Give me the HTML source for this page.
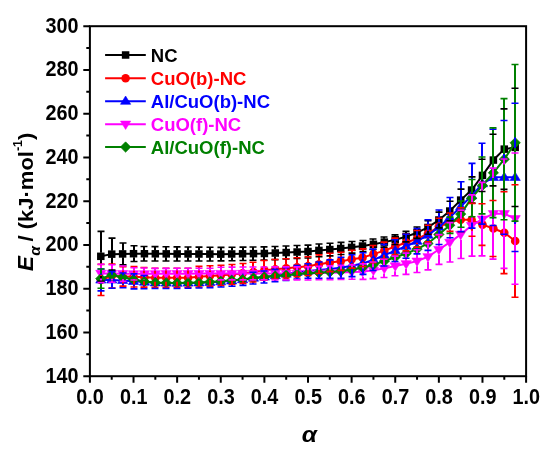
<!DOCTYPE html>
<html><head><meta charset="utf-8"><title>Ea vs alpha</title><style>html,body{margin:0;padding:0;background:#fff}body{width:550px;height:454px;overflow:hidden}</style></head><body>
<svg width="550" height="454" viewBox="0 0 550 454" style="display:block">
<rect width="550" height="454" fill="#ffffff"/>
<g>
<polyline points="100.81,256.32 111.71,254.14 122.62,253.92 133.52,253.70 144.43,253.75 155.33,253.81 166.24,253.86 177.14,253.92 188.05,253.97 198.95,254.03 209.86,254.08 220.76,254.14 231.67,253.97 242.57,253.81 253.48,253.65 264.38,253.48 275.29,253.04 286.19,252.53 297.10,252.02 308.00,251.51 318.91,250.42 329.81,249.54 340.72,248.45 351.62,247.36 362.52,246.04 373.43,244.29 384.34,242.11 395.24,239.70 406.14,236.64 417.05,232.70 427.96,227.45 438.86,220.01 449.76,211.04 460.67,200.11 471.58,190.04 482.48,175.39 493.39,160.07 504.29,149.14 515.20,147.39" fill="none" stroke="#000000" stroke-width="2.0" stroke-linejoin="round"/>
<g><rect x="97.06" y="252.57" width="7.50" height="7.50" fill="#000000"/><rect x="107.96" y="250.39" width="7.50" height="7.50" fill="#000000"/><rect x="118.87" y="250.17" width="7.50" height="7.50" fill="#000000"/><rect x="129.77" y="249.95" width="7.50" height="7.50" fill="#000000"/><rect x="140.68" y="250.00" width="7.50" height="7.50" fill="#000000"/><rect x="151.58" y="250.06" width="7.50" height="7.50" fill="#000000"/><rect x="162.49" y="250.11" width="7.50" height="7.50" fill="#000000"/><rect x="173.39" y="250.17" width="7.50" height="7.50" fill="#000000"/><rect x="184.30" y="250.22" width="7.50" height="7.50" fill="#000000"/><rect x="195.20" y="250.28" width="7.50" height="7.50" fill="#000000"/><rect x="206.11" y="250.33" width="7.50" height="7.50" fill="#000000"/><rect x="217.01" y="250.39" width="7.50" height="7.50" fill="#000000"/><rect x="227.92" y="250.22" width="7.50" height="7.50" fill="#000000"/><rect x="238.82" y="250.06" width="7.50" height="7.50" fill="#000000"/><rect x="249.73" y="249.90" width="7.50" height="7.50" fill="#000000"/><rect x="260.63" y="249.73" width="7.50" height="7.50" fill="#000000"/><rect x="271.54" y="249.29" width="7.50" height="7.50" fill="#000000"/><rect x="282.44" y="248.78" width="7.50" height="7.50" fill="#000000"/><rect x="293.35" y="248.27" width="7.50" height="7.50" fill="#000000"/><rect x="304.25" y="247.76" width="7.50" height="7.50" fill="#000000"/><rect x="315.16" y="246.67" width="7.50" height="7.50" fill="#000000"/><rect x="326.06" y="245.79" width="7.50" height="7.50" fill="#000000"/><rect x="336.97" y="244.70" width="7.50" height="7.50" fill="#000000"/><rect x="347.87" y="243.61" width="7.50" height="7.50" fill="#000000"/><rect x="358.77" y="242.29" width="7.50" height="7.50" fill="#000000"/><rect x="369.68" y="240.54" width="7.50" height="7.50" fill="#000000"/><rect x="380.59" y="238.36" width="7.50" height="7.50" fill="#000000"/><rect x="391.49" y="235.95" width="7.50" height="7.50" fill="#000000"/><rect x="402.39" y="232.89" width="7.50" height="7.50" fill="#000000"/><rect x="413.30" y="228.95" width="7.50" height="7.50" fill="#000000"/><rect x="424.21" y="223.70" width="7.50" height="7.50" fill="#000000"/><rect x="435.11" y="216.26" width="7.50" height="7.50" fill="#000000"/><rect x="446.01" y="207.29" width="7.50" height="7.50" fill="#000000"/><rect x="456.92" y="196.36" width="7.50" height="7.50" fill="#000000"/><rect x="467.83" y="186.29" width="7.50" height="7.50" fill="#000000"/><rect x="478.73" y="171.64" width="7.50" height="7.50" fill="#000000"/><rect x="489.64" y="156.32" width="7.50" height="7.50" fill="#000000"/><rect x="500.54" y="145.39" width="7.50" height="7.50" fill="#000000"/><rect x="511.45" y="143.64" width="7.50" height="7.50" fill="#000000"/></g>
<polyline points="100.81,279.95 111.71,276.01 122.62,276.45 133.52,276.78 144.43,277.27 155.33,277.76 166.24,277.76 177.14,277.76 188.05,277.76 198.95,276.67 209.86,276.01 220.76,275.36 231.67,274.48 242.57,273.39 253.48,272.07 264.38,270.32 275.29,269.23 286.19,268.36 297.10,267.26 308.00,266.17 318.91,264.20 329.81,262.45 340.72,261.36 351.62,259.17 362.52,257.64 373.43,254.14 384.34,250.64 395.24,246.48 406.14,242.54 417.05,238.82 427.96,233.58 438.86,226.57 449.76,222.20 460.67,219.79 471.58,219.79 482.48,224.61 493.39,228.54 504.29,232.70 515.20,241.01" fill="none" stroke="#ff0000" stroke-width="2.0" stroke-linejoin="round"/>
<g><circle cx="100.81" cy="279.95" r="4.30" fill="#ff0000"/><circle cx="111.71" cy="276.01" r="4.30" fill="#ff0000"/><circle cx="122.62" cy="276.45" r="4.30" fill="#ff0000"/><circle cx="133.52" cy="276.78" r="4.30" fill="#ff0000"/><circle cx="144.43" cy="277.27" r="4.30" fill="#ff0000"/><circle cx="155.33" cy="277.76" r="4.30" fill="#ff0000"/><circle cx="166.24" cy="277.76" r="4.30" fill="#ff0000"/><circle cx="177.14" cy="277.76" r="4.30" fill="#ff0000"/><circle cx="188.05" cy="277.76" r="4.30" fill="#ff0000"/><circle cx="198.95" cy="276.67" r="4.30" fill="#ff0000"/><circle cx="209.86" cy="276.01" r="4.30" fill="#ff0000"/><circle cx="220.76" cy="275.36" r="4.30" fill="#ff0000"/><circle cx="231.67" cy="274.48" r="4.30" fill="#ff0000"/><circle cx="242.57" cy="273.39" r="4.30" fill="#ff0000"/><circle cx="253.48" cy="272.07" r="4.30" fill="#ff0000"/><circle cx="264.38" cy="270.32" r="4.30" fill="#ff0000"/><circle cx="275.29" cy="269.23" r="4.30" fill="#ff0000"/><circle cx="286.19" cy="268.36" r="4.30" fill="#ff0000"/><circle cx="297.10" cy="267.26" r="4.30" fill="#ff0000"/><circle cx="308.00" cy="266.17" r="4.30" fill="#ff0000"/><circle cx="318.91" cy="264.20" r="4.30" fill="#ff0000"/><circle cx="329.81" cy="262.45" r="4.30" fill="#ff0000"/><circle cx="340.72" cy="261.36" r="4.30" fill="#ff0000"/><circle cx="351.62" cy="259.17" r="4.30" fill="#ff0000"/><circle cx="362.52" cy="257.64" r="4.30" fill="#ff0000"/><circle cx="373.43" cy="254.14" r="4.30" fill="#ff0000"/><circle cx="384.34" cy="250.64" r="4.30" fill="#ff0000"/><circle cx="395.24" cy="246.48" r="4.30" fill="#ff0000"/><circle cx="406.14" cy="242.54" r="4.30" fill="#ff0000"/><circle cx="417.05" cy="238.82" r="4.30" fill="#ff0000"/><circle cx="427.96" cy="233.58" r="4.30" fill="#ff0000"/><circle cx="438.86" cy="226.57" r="4.30" fill="#ff0000"/><circle cx="449.76" cy="222.20" r="4.30" fill="#ff0000"/><circle cx="460.67" cy="219.79" r="4.30" fill="#ff0000"/><circle cx="471.58" cy="219.79" r="4.30" fill="#ff0000"/><circle cx="482.48" cy="224.61" r="4.30" fill="#ff0000"/><circle cx="493.39" cy="228.54" r="4.30" fill="#ff0000"/><circle cx="504.29" cy="232.70" r="4.30" fill="#ff0000"/><circle cx="515.20" cy="241.01" r="4.30" fill="#ff0000"/></g>
<polyline points="100.81,279.95 111.71,279.95 122.62,280.39 133.52,281.37 144.43,282.08 155.33,282.79 166.24,283.01 177.14,283.23 188.05,283.01 198.95,282.79 209.86,282.36 220.76,281.70 231.67,280.82 242.57,279.62 253.48,278.09 264.38,277.00 275.29,275.57 286.19,274.04 297.10,272.29 308.00,270.98 318.91,270.11 329.81,269.01 340.72,267.70 351.62,265.73 362.52,263.54 373.43,259.83 384.34,255.23 395.24,250.64 406.14,246.26 417.05,241.23 427.96,235.11 438.86,227.23 449.76,217.61 460.67,206.67 471.58,195.73 482.48,183.70 493.39,177.36 504.29,177.36 515.20,177.36" fill="none" stroke="#0000ff" stroke-width="2.0" stroke-linejoin="round"/>
<g><polygon points="95.71,283.05 105.91,283.05 100.81,274.75" fill="#0000ff" stroke="#0000ff" stroke-width="0.6" stroke-linejoin="round"/><polygon points="106.61,283.05 116.81,283.05 111.71,274.75" fill="#0000ff" stroke="#0000ff" stroke-width="0.6" stroke-linejoin="round"/><polygon points="117.52,283.49 127.72,283.49 122.62,275.19" fill="#0000ff" stroke="#0000ff" stroke-width="0.6" stroke-linejoin="round"/><polygon points="128.42,284.47 138.62,284.47 133.52,276.17" fill="#0000ff" stroke="#0000ff" stroke-width="0.6" stroke-linejoin="round"/><polygon points="139.33,285.18 149.53,285.18 144.43,276.88" fill="#0000ff" stroke="#0000ff" stroke-width="0.6" stroke-linejoin="round"/><polygon points="150.23,285.89 160.43,285.89 155.33,277.59" fill="#0000ff" stroke="#0000ff" stroke-width="0.6" stroke-linejoin="round"/><polygon points="161.14,286.11 171.34,286.11 166.24,277.81" fill="#0000ff" stroke="#0000ff" stroke-width="0.6" stroke-linejoin="round"/><polygon points="172.04,286.33 182.24,286.33 177.14,278.03" fill="#0000ff" stroke="#0000ff" stroke-width="0.6" stroke-linejoin="round"/><polygon points="182.95,286.11 193.15,286.11 188.05,277.81" fill="#0000ff" stroke="#0000ff" stroke-width="0.6" stroke-linejoin="round"/><polygon points="193.85,285.89 204.05,285.89 198.95,277.59" fill="#0000ff" stroke="#0000ff" stroke-width="0.6" stroke-linejoin="round"/><polygon points="204.76,285.46 214.96,285.46 209.86,277.16" fill="#0000ff" stroke="#0000ff" stroke-width="0.6" stroke-linejoin="round"/><polygon points="215.66,284.80 225.86,284.80 220.76,276.50" fill="#0000ff" stroke="#0000ff" stroke-width="0.6" stroke-linejoin="round"/><polygon points="226.57,283.93 236.77,283.93 231.67,275.62" fill="#0000ff" stroke="#0000ff" stroke-width="0.6" stroke-linejoin="round"/><polygon points="237.47,282.72 247.67,282.72 242.57,274.42" fill="#0000ff" stroke="#0000ff" stroke-width="0.6" stroke-linejoin="round"/><polygon points="248.38,281.19 258.58,281.19 253.48,272.89" fill="#0000ff" stroke="#0000ff" stroke-width="0.6" stroke-linejoin="round"/><polygon points="259.28,280.10 269.48,280.10 264.38,271.80" fill="#0000ff" stroke="#0000ff" stroke-width="0.6" stroke-linejoin="round"/><polygon points="270.19,278.68 280.39,278.68 275.29,270.38" fill="#0000ff" stroke="#0000ff" stroke-width="0.6" stroke-linejoin="round"/><polygon points="281.09,277.14 291.29,277.14 286.19,268.84" fill="#0000ff" stroke="#0000ff" stroke-width="0.6" stroke-linejoin="round"/><polygon points="292.00,275.39 302.20,275.39 297.10,267.09" fill="#0000ff" stroke="#0000ff" stroke-width="0.6" stroke-linejoin="round"/><polygon points="302.90,274.08 313.10,274.08 308.00,265.78" fill="#0000ff" stroke="#0000ff" stroke-width="0.6" stroke-linejoin="round"/><polygon points="313.81,273.21 324.01,273.21 318.91,264.91" fill="#0000ff" stroke="#0000ff" stroke-width="0.6" stroke-linejoin="round"/><polygon points="324.71,272.11 334.91,272.11 329.81,263.81" fill="#0000ff" stroke="#0000ff" stroke-width="0.6" stroke-linejoin="round"/><polygon points="335.62,270.80 345.82,270.80 340.72,262.50" fill="#0000ff" stroke="#0000ff" stroke-width="0.6" stroke-linejoin="round"/><polygon points="346.52,268.83 356.72,268.83 351.62,260.53" fill="#0000ff" stroke="#0000ff" stroke-width="0.6" stroke-linejoin="round"/><polygon points="357.42,266.64 367.62,266.64 362.52,258.34" fill="#0000ff" stroke="#0000ff" stroke-width="0.6" stroke-linejoin="round"/><polygon points="368.33,262.93 378.53,262.93 373.43,254.63" fill="#0000ff" stroke="#0000ff" stroke-width="0.6" stroke-linejoin="round"/><polygon points="379.24,258.33 389.44,258.33 384.34,250.03" fill="#0000ff" stroke="#0000ff" stroke-width="0.6" stroke-linejoin="round"/><polygon points="390.14,253.74 400.34,253.74 395.24,245.44" fill="#0000ff" stroke="#0000ff" stroke-width="0.6" stroke-linejoin="round"/><polygon points="401.04,249.36 411.25,249.36 406.14,241.06" fill="#0000ff" stroke="#0000ff" stroke-width="0.6" stroke-linejoin="round"/><polygon points="411.95,244.33 422.15,244.33 417.05,236.03" fill="#0000ff" stroke="#0000ff" stroke-width="0.6" stroke-linejoin="round"/><polygon points="422.86,238.21 433.06,238.21 427.96,229.91" fill="#0000ff" stroke="#0000ff" stroke-width="0.6" stroke-linejoin="round"/><polygon points="433.76,230.33 443.96,230.33 438.86,222.03" fill="#0000ff" stroke="#0000ff" stroke-width="0.6" stroke-linejoin="round"/><polygon points="444.66,220.71 454.87,220.71 449.76,212.41" fill="#0000ff" stroke="#0000ff" stroke-width="0.6" stroke-linejoin="round"/><polygon points="455.57,209.77 465.77,209.77 460.67,201.47" fill="#0000ff" stroke="#0000ff" stroke-width="0.6" stroke-linejoin="round"/><polygon points="466.48,198.83 476.68,198.83 471.58,190.53" fill="#0000ff" stroke="#0000ff" stroke-width="0.6" stroke-linejoin="round"/><polygon points="477.38,186.80 487.58,186.80 482.48,178.50" fill="#0000ff" stroke="#0000ff" stroke-width="0.6" stroke-linejoin="round"/><polygon points="488.29,180.46 498.49,180.46 493.39,172.16" fill="#0000ff" stroke="#0000ff" stroke-width="0.6" stroke-linejoin="round"/><polygon points="499.19,180.46 509.39,180.46 504.29,172.16" fill="#0000ff" stroke="#0000ff" stroke-width="0.6" stroke-linejoin="round"/><polygon points="510.10,180.46 520.30,180.46 515.20,172.16" fill="#0000ff" stroke="#0000ff" stroke-width="0.6" stroke-linejoin="round"/></g>
<polyline points="100.81,273.39 111.71,273.53 122.62,273.68 133.52,273.82 144.43,273.79 155.33,273.75 166.24,273.72 177.14,273.68 188.05,273.64 198.95,273.61 209.86,273.57 220.76,273.53 231.67,273.50 242.57,273.46 253.48,273.42 264.38,273.39 275.29,273.39 286.19,273.39 297.10,273.39 308.00,273.39 318.91,273.06 329.81,272.73 340.72,272.40 351.62,272.07 362.52,271.64 373.43,270.32 384.34,268.36 395.24,265.95 406.14,263.76 417.05,261.14 427.96,256.76 438.86,249.54 449.76,242.33 460.67,234.45 471.58,225.48 482.48,219.14 493.39,213.67 504.29,213.67 515.20,218.70" fill="none" stroke="#ff00ff" stroke-width="2.0" stroke-linejoin="round"/>
<g><polygon points="95.71,270.29 105.91,270.29 100.81,278.59" fill="#ff00ff" stroke="#ff00ff" stroke-width="0.6" stroke-linejoin="round"/><polygon points="106.61,270.43 116.81,270.43 111.71,278.73" fill="#ff00ff" stroke="#ff00ff" stroke-width="0.6" stroke-linejoin="round"/><polygon points="117.52,270.58 127.72,270.58 122.62,278.88" fill="#ff00ff" stroke="#ff00ff" stroke-width="0.6" stroke-linejoin="round"/><polygon points="128.42,270.72 138.62,270.72 133.52,279.02" fill="#ff00ff" stroke="#ff00ff" stroke-width="0.6" stroke-linejoin="round"/><polygon points="139.33,270.69 149.53,270.69 144.43,278.99" fill="#ff00ff" stroke="#ff00ff" stroke-width="0.6" stroke-linejoin="round"/><polygon points="150.23,270.65 160.43,270.65 155.33,278.95" fill="#ff00ff" stroke="#ff00ff" stroke-width="0.6" stroke-linejoin="round"/><polygon points="161.14,270.62 171.34,270.62 166.24,278.92" fill="#ff00ff" stroke="#ff00ff" stroke-width="0.6" stroke-linejoin="round"/><polygon points="172.04,270.58 182.24,270.58 177.14,278.88" fill="#ff00ff" stroke="#ff00ff" stroke-width="0.6" stroke-linejoin="round"/><polygon points="182.95,270.54 193.15,270.54 188.05,278.84" fill="#ff00ff" stroke="#ff00ff" stroke-width="0.6" stroke-linejoin="round"/><polygon points="193.85,270.51 204.05,270.51 198.95,278.81" fill="#ff00ff" stroke="#ff00ff" stroke-width="0.6" stroke-linejoin="round"/><polygon points="204.76,270.47 214.96,270.47 209.86,278.77" fill="#ff00ff" stroke="#ff00ff" stroke-width="0.6" stroke-linejoin="round"/><polygon points="215.66,270.43 225.86,270.43 220.76,278.73" fill="#ff00ff" stroke="#ff00ff" stroke-width="0.6" stroke-linejoin="round"/><polygon points="226.57,270.40 236.77,270.40 231.67,278.70" fill="#ff00ff" stroke="#ff00ff" stroke-width="0.6" stroke-linejoin="round"/><polygon points="237.47,270.36 247.67,270.36 242.57,278.66" fill="#ff00ff" stroke="#ff00ff" stroke-width="0.6" stroke-linejoin="round"/><polygon points="248.38,270.32 258.58,270.32 253.48,278.62" fill="#ff00ff" stroke="#ff00ff" stroke-width="0.6" stroke-linejoin="round"/><polygon points="259.28,270.29 269.48,270.29 264.38,278.59" fill="#ff00ff" stroke="#ff00ff" stroke-width="0.6" stroke-linejoin="round"/><polygon points="270.19,270.29 280.39,270.29 275.29,278.59" fill="#ff00ff" stroke="#ff00ff" stroke-width="0.6" stroke-linejoin="round"/><polygon points="281.09,270.29 291.29,270.29 286.19,278.59" fill="#ff00ff" stroke="#ff00ff" stroke-width="0.6" stroke-linejoin="round"/><polygon points="292.00,270.29 302.20,270.29 297.10,278.59" fill="#ff00ff" stroke="#ff00ff" stroke-width="0.6" stroke-linejoin="round"/><polygon points="302.90,270.29 313.10,270.29 308.00,278.59" fill="#ff00ff" stroke="#ff00ff" stroke-width="0.6" stroke-linejoin="round"/><polygon points="313.81,269.96 324.01,269.96 318.91,278.26" fill="#ff00ff" stroke="#ff00ff" stroke-width="0.6" stroke-linejoin="round"/><polygon points="324.71,269.63 334.91,269.63 329.81,277.93" fill="#ff00ff" stroke="#ff00ff" stroke-width="0.6" stroke-linejoin="round"/><polygon points="335.62,269.30 345.82,269.30 340.72,277.60" fill="#ff00ff" stroke="#ff00ff" stroke-width="0.6" stroke-linejoin="round"/><polygon points="346.52,268.97 356.72,268.97 351.62,277.27" fill="#ff00ff" stroke="#ff00ff" stroke-width="0.6" stroke-linejoin="round"/><polygon points="357.42,268.54 367.62,268.54 362.52,276.84" fill="#ff00ff" stroke="#ff00ff" stroke-width="0.6" stroke-linejoin="round"/><polygon points="368.33,267.22 378.53,267.22 373.43,275.52" fill="#ff00ff" stroke="#ff00ff" stroke-width="0.6" stroke-linejoin="round"/><polygon points="379.24,265.26 389.44,265.26 384.34,273.56" fill="#ff00ff" stroke="#ff00ff" stroke-width="0.6" stroke-linejoin="round"/><polygon points="390.14,262.85 400.34,262.85 395.24,271.15" fill="#ff00ff" stroke="#ff00ff" stroke-width="0.6" stroke-linejoin="round"/><polygon points="401.04,260.66 411.25,260.66 406.14,268.96" fill="#ff00ff" stroke="#ff00ff" stroke-width="0.6" stroke-linejoin="round"/><polygon points="411.95,258.04 422.15,258.04 417.05,266.34" fill="#ff00ff" stroke="#ff00ff" stroke-width="0.6" stroke-linejoin="round"/><polygon points="422.86,253.66 433.06,253.66 427.96,261.96" fill="#ff00ff" stroke="#ff00ff" stroke-width="0.6" stroke-linejoin="round"/><polygon points="433.76,246.44 443.96,246.44 438.86,254.74" fill="#ff00ff" stroke="#ff00ff" stroke-width="0.6" stroke-linejoin="round"/><polygon points="444.66,239.23 454.87,239.23 449.76,247.53" fill="#ff00ff" stroke="#ff00ff" stroke-width="0.6" stroke-linejoin="round"/><polygon points="455.57,231.35 465.77,231.35 460.67,239.65" fill="#ff00ff" stroke="#ff00ff" stroke-width="0.6" stroke-linejoin="round"/><polygon points="466.48,222.38 476.68,222.38 471.58,230.68" fill="#ff00ff" stroke="#ff00ff" stroke-width="0.6" stroke-linejoin="round"/><polygon points="477.38,216.04 487.58,216.04 482.48,224.34" fill="#ff00ff" stroke="#ff00ff" stroke-width="0.6" stroke-linejoin="round"/><polygon points="488.29,210.57 498.49,210.57 493.39,218.87" fill="#ff00ff" stroke="#ff00ff" stroke-width="0.6" stroke-linejoin="round"/><polygon points="499.19,210.57 509.39,210.57 504.29,218.87" fill="#ff00ff" stroke="#ff00ff" stroke-width="0.6" stroke-linejoin="round"/><polygon points="510.10,215.60 520.30,215.60 515.20,223.90" fill="#ff00ff" stroke="#ff00ff" stroke-width="0.6" stroke-linejoin="round"/></g>
<polyline points="100.81,278.64 111.71,274.92 122.62,277.33 133.52,279.51 144.43,281.48 155.33,282.57 166.24,282.79 177.14,283.01 188.05,282.79 198.95,282.57 209.86,281.92 220.76,281.26 231.67,280.17 242.57,279.51 253.48,277.98 264.38,276.89 275.29,276.01 286.19,275.14 297.10,274.04 308.00,273.17 318.91,272.73 329.81,272.07 340.72,271.20 351.62,269.67 362.52,267.48 373.43,264.86 384.34,261.14 395.24,257.20 406.14,253.48 417.05,249.11 427.96,243.42 438.86,234.45 449.76,225.26 460.67,214.11 471.58,198.14 482.48,185.45 493.39,172.76 504.29,159.20 515.20,142.79" fill="none" stroke="#008000" stroke-width="2.0" stroke-linejoin="round"/>
<g><polygon points="95.66,278.64 100.81,273.49 105.96,278.64 100.81,283.79" fill="#008000" stroke="#008000" stroke-width="0.7" stroke-linejoin="round"/><polygon points="106.56,274.92 111.71,269.77 116.86,274.92 111.71,280.07" fill="#008000" stroke="#008000" stroke-width="0.7" stroke-linejoin="round"/><polygon points="117.47,277.33 122.62,272.18 127.77,277.33 122.62,282.48" fill="#008000" stroke="#008000" stroke-width="0.7" stroke-linejoin="round"/><polygon points="128.37,279.51 133.52,274.36 138.67,279.51 133.52,284.66" fill="#008000" stroke="#008000" stroke-width="0.7" stroke-linejoin="round"/><polygon points="139.28,281.48 144.43,276.33 149.58,281.48 144.43,286.63" fill="#008000" stroke="#008000" stroke-width="0.7" stroke-linejoin="round"/><polygon points="150.18,282.57 155.33,277.42 160.48,282.57 155.33,287.72" fill="#008000" stroke="#008000" stroke-width="0.7" stroke-linejoin="round"/><polygon points="161.09,282.79 166.24,277.64 171.39,282.79 166.24,287.94" fill="#008000" stroke="#008000" stroke-width="0.7" stroke-linejoin="round"/><polygon points="171.99,283.01 177.14,277.86 182.29,283.01 177.14,288.16" fill="#008000" stroke="#008000" stroke-width="0.7" stroke-linejoin="round"/><polygon points="182.90,282.79 188.05,277.64 193.20,282.79 188.05,287.94" fill="#008000" stroke="#008000" stroke-width="0.7" stroke-linejoin="round"/><polygon points="193.80,282.57 198.95,277.42 204.10,282.57 198.95,287.72" fill="#008000" stroke="#008000" stroke-width="0.7" stroke-linejoin="round"/><polygon points="204.71,281.92 209.86,276.77 215.01,281.92 209.86,287.07" fill="#008000" stroke="#008000" stroke-width="0.7" stroke-linejoin="round"/><polygon points="215.61,281.26 220.76,276.11 225.91,281.26 220.76,286.41" fill="#008000" stroke="#008000" stroke-width="0.7" stroke-linejoin="round"/><polygon points="226.52,280.17 231.67,275.02 236.82,280.17 231.67,285.32" fill="#008000" stroke="#008000" stroke-width="0.7" stroke-linejoin="round"/><polygon points="237.42,279.51 242.57,274.36 247.72,279.51 242.57,284.66" fill="#008000" stroke="#008000" stroke-width="0.7" stroke-linejoin="round"/><polygon points="248.33,277.98 253.48,272.83 258.62,277.98 253.48,283.13" fill="#008000" stroke="#008000" stroke-width="0.7" stroke-linejoin="round"/><polygon points="259.23,276.89 264.38,271.74 269.53,276.89 264.38,282.04" fill="#008000" stroke="#008000" stroke-width="0.7" stroke-linejoin="round"/><polygon points="270.14,276.01 275.29,270.86 280.44,276.01 275.29,281.16" fill="#008000" stroke="#008000" stroke-width="0.7" stroke-linejoin="round"/><polygon points="281.04,275.14 286.19,269.99 291.34,275.14 286.19,280.29" fill="#008000" stroke="#008000" stroke-width="0.7" stroke-linejoin="round"/><polygon points="291.95,274.04 297.10,268.89 302.25,274.04 297.10,279.19" fill="#008000" stroke="#008000" stroke-width="0.7" stroke-linejoin="round"/><polygon points="302.85,273.17 308.00,268.02 313.15,273.17 308.00,278.32" fill="#008000" stroke="#008000" stroke-width="0.7" stroke-linejoin="round"/><polygon points="313.76,272.73 318.91,267.58 324.06,272.73 318.91,277.88" fill="#008000" stroke="#008000" stroke-width="0.7" stroke-linejoin="round"/><polygon points="324.66,272.07 329.81,266.93 334.96,272.07 329.81,277.22" fill="#008000" stroke="#008000" stroke-width="0.7" stroke-linejoin="round"/><polygon points="335.57,271.20 340.72,266.05 345.87,271.20 340.72,276.35" fill="#008000" stroke="#008000" stroke-width="0.7" stroke-linejoin="round"/><polygon points="346.47,269.67 351.62,264.52 356.77,269.67 351.62,274.82" fill="#008000" stroke="#008000" stroke-width="0.7" stroke-linejoin="round"/><polygon points="357.38,267.48 362.52,262.33 367.67,267.48 362.52,272.63" fill="#008000" stroke="#008000" stroke-width="0.7" stroke-linejoin="round"/><polygon points="368.28,264.86 373.43,259.71 378.58,264.86 373.43,270.01" fill="#008000" stroke="#008000" stroke-width="0.7" stroke-linejoin="round"/><polygon points="379.19,261.14 384.34,255.99 389.49,261.14 384.34,266.29" fill="#008000" stroke="#008000" stroke-width="0.7" stroke-linejoin="round"/><polygon points="390.09,257.20 395.24,252.05 400.39,257.20 395.24,262.35" fill="#008000" stroke="#008000" stroke-width="0.7" stroke-linejoin="round"/><polygon points="401.00,253.48 406.14,248.33 411.29,253.48 406.14,258.63" fill="#008000" stroke="#008000" stroke-width="0.7" stroke-linejoin="round"/><polygon points="411.90,249.11 417.05,243.96 422.20,249.11 417.05,254.26" fill="#008000" stroke="#008000" stroke-width="0.7" stroke-linejoin="round"/><polygon points="422.81,243.42 427.96,238.27 433.11,243.42 427.96,248.57" fill="#008000" stroke="#008000" stroke-width="0.7" stroke-linejoin="round"/><polygon points="433.71,234.45 438.86,229.30 444.01,234.45 438.86,239.60" fill="#008000" stroke="#008000" stroke-width="0.7" stroke-linejoin="round"/><polygon points="444.62,225.26 449.76,220.11 454.91,225.26 449.76,230.41" fill="#008000" stroke="#008000" stroke-width="0.7" stroke-linejoin="round"/><polygon points="455.52,214.11 460.67,208.96 465.82,214.11 460.67,219.26" fill="#008000" stroke="#008000" stroke-width="0.7" stroke-linejoin="round"/><polygon points="466.43,198.14 471.58,192.99 476.73,198.14 471.58,203.29" fill="#008000" stroke="#008000" stroke-width="0.7" stroke-linejoin="round"/><polygon points="477.33,185.45 482.48,180.30 487.63,185.45 482.48,190.60" fill="#008000" stroke="#008000" stroke-width="0.7" stroke-linejoin="round"/><polygon points="488.24,172.76 493.39,167.61 498.54,172.76 493.39,177.91" fill="#008000" stroke="#008000" stroke-width="0.7" stroke-linejoin="round"/><polygon points="499.14,159.20 504.29,154.05 509.44,159.20 504.29,164.35" fill="#008000" stroke="#008000" stroke-width="0.7" stroke-linejoin="round"/><polygon points="510.05,142.79 515.20,137.64 520.35,142.79 515.20,147.94" fill="#008000" stroke="#008000" stroke-width="0.7" stroke-linejoin="round"/></g>
<path d="M101.00 231.39V252.87M101.00 259.77V281.26M112.00 238.17V250.69M112.00 257.59V270.11M123.00 242.98V250.47M123.00 257.37V264.86M134.00 245.82V250.25M134.00 257.15V261.57M144.00 246.54V250.30M144.00 257.20V260.97M155.00 246.65V250.36M155.00 257.26V260.97M166.00 246.77V250.41M166.00 257.31V260.96M177.00 246.89V250.47M177.00 257.37V260.95M188.00 247.00V250.52M188.00 257.42V260.94M199.00 247.12V250.58M199.00 257.48V260.93M210.00 247.24V250.63M210.00 257.53V260.93M221.00 247.36V250.69M221.00 257.59V260.92M232.00 247.24V250.52M232.00 257.42V260.71M243.00 247.12V250.36M243.00 257.26V260.50M253.00 247.00V250.20M253.00 257.10V260.30M264.00 246.88V250.03M264.00 256.93V260.09M275.00 246.48V249.59M275.00 256.49V259.61M286.00 246.01V249.08M286.00 255.98V259.05M297.00 245.55V248.57M297.00 255.47V258.50M308.00 245.08V248.06M308.00 254.96V257.94M319.00 244.03V246.97M319.00 253.87V256.81M330.00 243.20V246.09M330.00 252.99V255.89M341.00 242.38V245.00M341.00 251.90V254.52M352.00 241.56V243.91M352.00 250.81V253.15M363.00 240.52V242.59M363.00 249.49V251.57M373.00 239.04V240.84M373.00 247.74V249.54M384.00 237.07V238.66M384.00 245.56V247.14M395.00 234.89V236.25M395.00 243.15V244.51M406.00 231.39V233.19M406.00 240.09V241.89M417.00 227.01V229.25M417.00 236.15V238.39M428.00 220.67V224.00M428.00 230.90V234.23M439.00 212.14V216.56M439.00 223.46V227.89M450.00 201.20V207.59M450.00 214.49V220.89M461.00 189.17V196.66M461.00 203.56V211.04M472.00 176.92V186.59M472.00 193.49V203.17M482.00 159.20V171.94M482.00 178.84V191.57M493.00 134.26V156.62M493.00 163.52V185.89M504.00 108.89V145.69M504.00 152.59V189.39M515.00 88.32V143.94M515.00 150.84V206.45" stroke="#000000" stroke-width="2.0" fill="none"/>
<path d="M101.00 264.42V275.95M101.00 283.95V295.48M112.00 263.98V272.01M112.00 280.01V288.04M123.00 266.82V272.45M123.00 280.45V286.08M134.00 266.61V272.78M134.00 280.78V286.95M144.00 267.43V273.27M144.00 281.27V287.11M155.00 268.25V273.76M155.00 281.76V287.28M166.00 268.25V273.76M166.00 281.76V287.28M177.00 268.25V273.76M177.00 281.76V287.28M188.00 268.25V273.76M188.00 281.76V287.28M199.00 266.39V272.67M199.00 280.67V286.95M210.00 265.81V272.01M210.00 280.01V286.21M221.00 265.24V271.36M221.00 279.36V285.47M232.00 264.45V270.48M232.00 278.48V284.52M243.00 263.43V269.39M243.00 277.39V283.34M253.00 262.20V268.07M253.00 276.07V281.95M264.00 260.54V266.32M264.00 274.32V280.11M275.00 259.52V265.23M275.00 273.23V278.94M286.00 258.73V264.36M286.00 272.36V277.98M297.00 257.75V263.26M297.00 271.26V276.78M308.00 256.76V262.17M308.00 270.17V275.57M319.00 254.90V260.20M319.00 268.20V273.50M330.00 253.26V258.45M330.00 266.45V271.64M341.00 252.28V257.36M341.00 265.36V270.43M352.00 250.20V255.17M352.00 263.17V268.14M363.00 248.83V253.64M363.00 261.64V266.44M373.00 245.50V250.14M373.00 258.14V262.78M384.00 242.16V246.64M384.00 254.64V259.11M395.00 238.17V242.48M395.00 250.48V254.79M406.00 234.23V238.54M406.00 246.54V250.86M417.00 230.51V234.82M417.00 242.82V247.14M428.00 225.26V229.58M428.00 237.58V241.89M439.00 218.26V222.57M439.00 230.57V234.89M450.00 213.01V218.20M450.00 226.20V231.39M461.00 207.76V215.79M461.00 223.79V231.82M472.00 203.39V215.79M472.00 223.79V236.20M482.00 203.82V220.61M482.00 228.61V245.39M493.00 200.54V224.54M493.00 232.54V256.54M504.00 191.79V228.70M504.00 236.70V273.61M515.00 184.79V237.01M515.00 245.01V297.23" stroke="#ff0000" stroke-width="2.0" fill="none"/>
<path d="M101.00 269.01V274.75M101.00 283.05V290.89M112.00 271.64V274.75M112.00 283.05V288.26M123.00 272.95V275.19M123.00 283.49V287.82M134.00 273.83V276.17M134.00 284.47V288.92M144.00 275.47V276.88M144.00 285.18V288.70M155.00 277.11V277.59M155.00 285.89V288.48M166.00 277.54V277.81M166.00 286.11V288.48M177.00 277.98V278.03M177.00 286.33V288.48M188.00 277.76V277.81M188.00 286.11V288.26M199.00 277.54V277.59M199.00 285.89V288.04M210.00 277.11V277.16M210.00 285.46V287.61M221.00 276.45V276.50M221.00 284.80V286.95M232.00 275.36V275.62M232.00 283.93V286.29M243.00 273.82V274.42M243.00 282.72V285.42M253.00 272.18V272.89M253.00 281.19V284.00M264.00 270.98V271.80M264.00 280.10V283.01M275.00 269.40V270.38M275.00 278.68V281.75M286.00 267.70V268.84M286.00 277.14V280.39M297.00 265.51V267.09M297.00 275.39V279.07M308.00 263.76V265.78M308.00 274.08V278.20M319.00 262.01V264.91M319.00 273.21V278.20M330.00 259.83V263.81M330.00 272.11V278.20M341.00 257.20V262.50M341.00 270.80V278.20M352.00 254.79V260.53M352.00 268.83V276.67M363.00 252.72V258.34M363.00 266.64V274.37M373.00 249.11V254.63M373.00 262.93V270.54M384.00 244.40V250.03M384.00 258.33V266.06M395.00 239.70V245.44M395.00 253.74V261.57M406.00 234.23V241.06M406.00 249.36V258.29M417.00 228.54V236.03M417.00 244.33V253.92M428.00 219.79V229.91M428.00 238.21V250.42M439.00 209.95V222.03M439.00 230.33V244.51M450.00 197.48V212.41M450.00 220.71V237.73M461.00 181.73V201.47M461.00 209.77V231.61M472.00 163.36V190.53M472.00 198.83V228.11M482.00 143.23V178.50M482.00 186.80V224.17M493.00 129.23V172.16M493.00 180.46V225.48M504.00 120.48V172.16M504.00 180.46V234.23M515.00 103.20V172.16M515.00 180.46V251.51" stroke="#0000ff" stroke-width="2.0" fill="none"/>
<path d="M101.00 264.20V270.29M101.00 278.59V282.57M112.00 264.78V270.43M112.00 278.73V282.28M123.00 266.02V270.58M123.00 278.88V281.34M134.00 267.70V270.72M134.00 279.02V279.95M144.00 268.05V270.69M144.00 278.99V279.53M155.00 268.39V270.65M155.00 278.95V279.11M166.00 268.36V270.62M166.00 278.92V279.07M177.00 268.32V270.58M177.00 278.88V279.04M188.00 268.28V270.54M188.00 278.84V279.00M199.00 268.25V270.51M199.00 278.81V278.97M210.00 268.21V270.47M210.00 278.77V278.93M221.00 267.19V270.43M221.00 278.73V279.88M232.00 267.13V270.40M232.00 278.70V279.87M243.00 267.06V270.36M243.00 278.66V279.86M253.00 267.00V270.32M253.00 278.62V279.85M264.00 266.93V270.29M264.00 278.59V279.84M275.00 266.91V270.29M275.00 278.59V279.87M286.00 266.88V270.29M286.00 278.59V279.90M297.00 266.85V270.29M297.00 278.59V279.92M308.00 266.82V270.29M308.00 278.59V279.95M319.00 266.33V269.96M319.00 278.26V279.79M330.00 265.84V269.63M330.00 277.93V279.62M341.00 265.35V269.30M341.00 277.60V279.46M352.00 264.86V268.97M352.00 277.27V279.29M363.00 263.87V268.54M363.00 276.84V279.40M373.00 262.01V267.22M373.00 275.52V278.64M384.00 259.28V265.26M384.00 273.56V277.43M395.00 256.11V262.85M395.00 271.15V275.79M406.00 253.15V260.66M406.00 268.96V274.37M417.00 249.76V258.04M417.00 266.34V272.51M428.00 243.64V253.66M428.00 261.96V269.89M439.00 234.67V246.44M439.00 254.74V264.42M450.00 222.64V239.23M450.00 247.53V262.01M461.00 210.39V231.35M461.00 239.65V258.51M472.00 194.86V222.38M472.00 230.68V256.11M482.00 182.39V216.04M482.00 224.34V255.89M493.00 168.17V210.57M493.00 218.87V259.17M504.00 158.98V210.57M504.00 218.87V268.36M515.00 153.07V215.60M515.00 223.90V284.32" stroke="#ff00ff" stroke-width="2.0" fill="none"/>
<path d="M101.00 269.01V273.44M101.00 283.84V288.26M112.00 269.45V269.72M112.00 280.12V280.39M428.00 238.17V238.22M428.00 248.62V248.67M439.00 228.76V229.25M439.00 239.65V240.14M450.00 217.17V220.06M450.00 230.46V233.36M461.00 200.98V208.91M461.00 219.31V227.23M472.00 179.54V192.94M472.00 203.34V216.73M482.00 157.01V180.25M482.00 190.65V213.89M493.00 127.92V167.56M493.00 177.96V217.61M504.00 98.61V154.00M504.00 164.40V219.79M515.00 64.48V137.59M515.00 147.99V221.11" stroke="#008000" stroke-width="2.0" fill="none"/>
<path d="M97.50 231.39H104.50M97.50 281.26H104.50M108.50 238.17H115.50M108.50 270.11H115.50M119.50 242.98H126.50M119.50 264.86H126.50M130.50 245.82H137.50M130.50 261.57H137.50M140.50 246.54H147.50M140.50 260.97H147.50M151.50 246.65H158.50M151.50 260.97H158.50M162.50 246.77H169.50M162.50 260.96H169.50M173.50 246.89H180.50M173.50 260.95H180.50M184.50 247.00H191.50M184.50 260.94H191.50M195.50 247.12H202.50M195.50 260.93H202.50M206.50 247.24H213.50M206.50 260.93H213.50M217.50 247.36H224.50M217.50 260.92H224.50M228.50 247.24H235.50M228.50 260.71H235.50M239.50 247.12H246.50M239.50 260.50H246.50M249.50 247.00H256.50M249.50 260.30H256.50M260.50 246.88H267.50M260.50 260.09H267.50M271.50 246.48H278.50M271.50 259.61H278.50M282.50 246.01H289.50M282.50 259.05H289.50M293.50 245.55H300.50M293.50 258.50H300.50M304.50 245.08H311.50M304.50 257.94H311.50M315.50 244.03H322.50M315.50 256.81H322.50M326.50 243.20H333.50M326.50 255.89H333.50M337.50 242.38H344.50M337.50 254.52H344.50M348.50 241.56H355.50M348.50 253.15H355.50M359.50 240.52H366.50M359.50 251.57H366.50M369.50 239.04H376.50M369.50 249.54H376.50M380.50 237.07H387.50M380.50 247.14H387.50M391.50 234.89H398.50M391.50 244.51H398.50M402.50 231.39H409.50M402.50 241.89H409.50M413.50 227.01H420.50M413.50 238.39H420.50M424.50 220.67H431.50M424.50 234.23H431.50M435.50 212.14H442.50M435.50 227.89H442.50M446.50 201.20H453.50M446.50 220.89H453.50M457.50 189.17H464.50M457.50 211.04H464.50M468.50 176.92H475.50M468.50 203.17H475.50M478.50 159.20H485.50M478.50 191.57H485.50M489.50 134.26H496.50M489.50 185.89H496.50M500.50 108.89H507.50M500.50 189.39H507.50M511.50 88.32H518.50M511.50 206.45H518.50" stroke="#000000" stroke-width="1.6" fill="none"/>
<path d="M97.50 264.42H104.50M97.50 295.48H104.50M108.50 263.98H115.50M108.50 288.04H115.50M119.50 266.82H126.50M119.50 286.08H126.50M130.50 266.61H137.50M130.50 286.95H137.50M140.50 267.43H147.50M140.50 287.11H147.50M151.50 268.25H158.50M151.50 287.28H158.50M162.50 268.25H169.50M162.50 287.28H169.50M173.50 268.25H180.50M173.50 287.28H180.50M184.50 268.25H191.50M184.50 287.28H191.50M195.50 266.39H202.50M195.50 286.95H202.50M206.50 265.81H213.50M206.50 286.21H213.50M217.50 265.24H224.50M217.50 285.47H224.50M228.50 264.45H235.50M228.50 284.52H235.50M239.50 263.43H246.50M239.50 283.34H246.50M249.50 262.20H256.50M249.50 281.95H256.50M260.50 260.54H267.50M260.50 280.11H267.50M271.50 259.52H278.50M271.50 278.94H278.50M282.50 258.73H289.50M282.50 277.98H289.50M293.50 257.75H300.50M293.50 276.78H300.50M304.50 256.76H311.50M304.50 275.57H311.50M315.50 254.90H322.50M315.50 273.50H322.50M326.50 253.26H333.50M326.50 271.64H333.50M337.50 252.28H344.50M337.50 270.43H344.50M348.50 250.20H355.50M348.50 268.14H355.50M359.50 248.83H366.50M359.50 266.44H366.50M369.50 245.50H376.50M369.50 262.78H376.50M380.50 242.16H387.50M380.50 259.11H387.50M391.50 238.17H398.50M391.50 254.79H398.50M402.50 234.23H409.50M402.50 250.86H409.50M413.50 230.51H420.50M413.50 247.14H420.50M424.50 225.26H431.50M424.50 241.89H431.50M435.50 218.26H442.50M435.50 234.89H442.50M446.50 213.01H453.50M446.50 231.39H453.50M457.50 207.76H464.50M457.50 231.82H464.50M468.50 203.39H475.50M468.50 236.20H475.50M478.50 203.82H485.50M478.50 245.39H485.50M489.50 200.54H496.50M489.50 256.54H496.50M500.50 191.79H507.50M500.50 273.61H507.50M511.50 184.79H518.50M511.50 297.23H518.50" stroke="#ff0000" stroke-width="1.6" fill="none"/>
<path d="M97.50 269.01H104.50M97.50 290.89H104.50M108.50 271.64H115.50M108.50 288.26H115.50M119.50 272.95H126.50M119.50 287.82H126.50M130.50 273.83H137.50M130.50 288.92H137.50M140.50 275.47H147.50M140.50 288.70H147.50M151.50 288.48H158.50M162.50 288.48H169.50M173.50 288.48H180.50M184.50 288.26H191.50M195.50 288.04H202.50M206.50 287.61H213.50M217.50 286.95H224.50M228.50 286.29H235.50M239.50 285.42H246.50M249.50 272.18H256.50M249.50 284.00H256.50M260.50 270.98H267.50M260.50 283.01H267.50M271.50 269.40H278.50M271.50 281.75H278.50M282.50 267.70H289.50M282.50 280.39H289.50M293.50 265.51H300.50M293.50 279.07H300.50M304.50 263.76H311.50M304.50 278.20H311.50M315.50 262.01H322.50M315.50 278.20H322.50M326.50 259.83H333.50M326.50 278.20H333.50M337.50 257.20H344.50M337.50 278.20H344.50M348.50 254.79H355.50M348.50 276.67H355.50M359.50 252.72H366.50M359.50 274.37H366.50M369.50 249.11H376.50M369.50 270.54H376.50M380.50 244.40H387.50M380.50 266.06H387.50M391.50 239.70H398.50M391.50 261.57H398.50M402.50 234.23H409.50M402.50 258.29H409.50M413.50 228.54H420.50M413.50 253.92H420.50M424.50 219.79H431.50M424.50 250.42H431.50M435.50 209.95H442.50M435.50 244.51H442.50M446.50 197.48H453.50M446.50 237.73H453.50M457.50 181.73H464.50M457.50 231.61H464.50M468.50 163.36H475.50M468.50 228.11H475.50M478.50 143.23H485.50M478.50 224.17H485.50M489.50 129.23H496.50M489.50 225.48H496.50M500.50 120.48H507.50M500.50 234.23H507.50M511.50 103.20H518.50M511.50 251.51H518.50" stroke="#0000ff" stroke-width="1.6" fill="none"/>
<path d="M97.50 264.20H104.50M97.50 282.57H104.50M108.50 264.78H115.50M108.50 282.28H115.50M119.50 266.02H126.50M119.50 281.34H126.50M130.50 267.70H137.50M130.50 279.95H137.50M140.50 268.05H147.50M151.50 268.39H158.50M162.50 268.36H169.50M173.50 268.32H180.50M184.50 268.28H191.50M195.50 268.25H202.50M206.50 268.21H213.50M217.50 267.19H224.50M217.50 279.88H224.50M228.50 267.13H235.50M228.50 279.87H235.50M239.50 267.06H246.50M239.50 279.86H246.50M249.50 267.00H256.50M249.50 279.85H256.50M260.50 266.93H267.50M260.50 279.84H267.50M271.50 266.91H278.50M271.50 279.87H278.50M282.50 266.88H289.50M282.50 279.90H289.50M293.50 266.85H300.50M293.50 279.92H300.50M304.50 266.82H311.50M304.50 279.95H311.50M315.50 266.33H322.50M315.50 279.79H322.50M326.50 265.84H333.50M326.50 279.62H333.50M337.50 265.35H344.50M337.50 279.46H344.50M348.50 264.86H355.50M348.50 279.29H355.50M359.50 263.87H366.50M359.50 279.40H366.50M369.50 262.01H376.50M369.50 278.64H376.50M380.50 259.28H387.50M380.50 277.43H387.50M391.50 256.11H398.50M391.50 275.79H398.50M402.50 253.15H409.50M402.50 274.37H409.50M413.50 249.76H420.50M413.50 272.51H420.50M424.50 243.64H431.50M424.50 269.89H431.50M435.50 234.67H442.50M435.50 264.42H442.50M446.50 222.64H453.50M446.50 262.01H453.50M457.50 210.39H464.50M457.50 258.51H464.50M468.50 194.86H475.50M468.50 256.11H475.50M478.50 182.39H485.50M478.50 255.89H485.50M489.50 168.17H496.50M489.50 259.17H496.50M500.50 158.98H507.50M500.50 268.36H507.50M511.50 153.07H518.50M511.50 284.32H518.50" stroke="#ff00ff" stroke-width="1.6" fill="none"/>
<path d="M97.50 269.01H104.50M97.50 288.26H104.50M446.50 217.17H453.50M446.50 233.36H453.50M457.50 200.98H464.50M457.50 227.23H464.50M468.50 179.54H475.50M468.50 216.73H475.50M478.50 157.01H485.50M478.50 213.89H485.50M489.50 127.92H496.50M489.50 217.61H496.50M500.50 98.61H507.50M500.50 219.79H507.50M511.50 64.48H518.50M511.50 221.11H518.50" stroke="#008000" stroke-width="1.6" fill="none"/>
</g>
<rect x="89.9" y="26.2" width="436.20000000000005" height="350.0" fill="none" stroke="#000" stroke-width="2.0"/>
<path d="M89.90 376.20h-6.6M89.90 354.32h-3.6M89.90 332.45h-6.6M89.90 310.57h-3.6M89.90 288.70h-6.6M89.90 266.82h-3.6M89.90 244.95h-6.6M89.90 223.07h-3.6M89.90 201.20h-6.6M89.90 179.32h-3.6M89.90 157.45h-6.6M89.90 135.57h-3.6M89.90 113.70h-6.6M89.90 91.83h-3.6M89.90 69.95h-6.6M89.90 48.08h-3.6M89.90 26.20h-6.6M89.90 376.20v6.6M111.71 376.20v3.6M133.52 376.20v6.6M155.33 376.20v3.6M177.14 376.20v6.6M198.95 376.20v3.6M220.76 376.20v6.6M242.57 376.20v3.6M264.38 376.20v6.6M286.19 376.20v3.6M308.00 376.20v6.6M329.81 376.20v3.6M351.62 376.20v6.6M373.43 376.20v3.6M395.24 376.20v6.6M417.05 376.20v3.6M438.86 376.20v6.6M460.67 376.20v3.6M482.48 376.20v6.6M504.29 376.20v3.6M526.10 376.20v6.6" stroke="#000" stroke-width="2.0" fill="none"/>
<g font-family="'Liberation Sans', sans-serif" font-weight="bold" font-size="21.2" fill="#000">
<text transform="translate(78.6 382.70) scale(0.935 1)" text-anchor="end">140</text>
<text transform="translate(78.6 338.95) scale(0.935 1)" text-anchor="end">160</text>
<text transform="translate(78.6 295.20) scale(0.935 1)" text-anchor="end">180</text>
<text transform="translate(78.6 251.45) scale(0.935 1)" text-anchor="end">200</text>
<text transform="translate(78.6 207.70) scale(0.935 1)" text-anchor="end">220</text>
<text transform="translate(78.6 163.95) scale(0.935 1)" text-anchor="end">240</text>
<text transform="translate(78.6 120.20) scale(0.935 1)" text-anchor="end">260</text>
<text transform="translate(78.6 76.45) scale(0.935 1)" text-anchor="end">280</text>
<text transform="translate(78.6 32.70) scale(0.935 1)" text-anchor="end">300</text>
<text transform="translate(90.10 403.9) scale(0.935 1)" text-anchor="middle">0.0</text>
<text transform="translate(133.72 403.9) scale(0.935 1)" text-anchor="middle">0.1</text>
<text transform="translate(177.34 403.9) scale(0.935 1)" text-anchor="middle">0.2</text>
<text transform="translate(220.96 403.9) scale(0.935 1)" text-anchor="middle">0.3</text>
<text transform="translate(264.58 403.9) scale(0.935 1)" text-anchor="middle">0.4</text>
<text transform="translate(308.20 403.9) scale(0.935 1)" text-anchor="middle">0.5</text>
<text transform="translate(351.82 403.9) scale(0.935 1)" text-anchor="middle">0.6</text>
<text transform="translate(395.44 403.9) scale(0.935 1)" text-anchor="middle">0.7</text>
<text transform="translate(439.06 403.9) scale(0.935 1)" text-anchor="middle">0.8</text>
<text transform="translate(482.68 403.9) scale(0.935 1)" text-anchor="middle">0.9</text>
<text transform="translate(526.30 403.9) scale(0.935 1)" text-anchor="middle">1.0</text>
</g>
<g font-family="'Liberation Sans', sans-serif" font-weight="bold" font-size="18.5">
<path d="M105.1 55.0H145.8" stroke="#000000" stroke-width="2.0"/>
<rect x="121.85" y="51.25" width="7.50" height="7.50" fill="#000000"/>
<text x="150.8" y="61.60" fill="#000000">NC</text>
<path d="M105.1 78.2H145.8" stroke="#ff0000" stroke-width="2.0"/>
<circle cx="125.60" cy="78.20" r="4.30" fill="#ff0000"/>
<text x="150.8" y="84.60" fill="#ff0000">CuO(b)-NC</text>
<path d="M105.1 101.2H145.8" stroke="#0000ff" stroke-width="2.0"/>
<polygon points="120.50,104.30 130.70,104.30 125.60,96.00" fill="#0000ff" stroke="#0000ff" stroke-width="0.6" stroke-linejoin="round"/>
<text x="150.8" y="107.50" fill="#0000ff">Al/CuO(b)-NC</text>
<path d="M105.1 124.2H145.8" stroke="#ff00ff" stroke-width="2.0"/>
<polygon points="120.50,121.10 130.70,121.10 125.60,129.40" fill="#ff00ff" stroke="#ff00ff" stroke-width="0.6" stroke-linejoin="round"/>
<text x="150.8" y="130.60" fill="#ff00ff">CuO(f)-NC</text>
<path d="M105.1 147.0H145.8" stroke="#008000" stroke-width="2.0"/>
<polygon points="120.45,147.00 125.60,141.85 130.75,147.00 125.60,152.15" fill="#008000" stroke="#008000" stroke-width="0.7" stroke-linejoin="round"/>
<text x="150.8" y="153.80" fill="#008000">Al/CuO(f)-NC</text>
</g>
<text transform="translate(32.6 271.2) rotate(-90) scale(1 0.96)" font-family="'Liberation Sans', sans-serif" font-weight="bold" font-size="22.0" fill="#000"><tspan font-style="italic" font-size="22.8">E</tspan><tspan font-style="italic" font-size="15.5" dy="7.5" dx="0.3">α</tspan><tspan dy="-7.5" dx="4.7">/</tspan><tspan dx="6">(kJ·mol</tspan><tspan font-size="12.5" dy="-11.5">-1</tspan><tspan dy="11.5">)</tspan></text>
<text transform="translate(309.4 441.6) scale(1.07 1)" text-anchor="middle" font-family="'Liberation Sans', sans-serif" font-weight="bold" font-style="italic" font-size="23" fill="#000">α</text>
</svg>
</body></html>
